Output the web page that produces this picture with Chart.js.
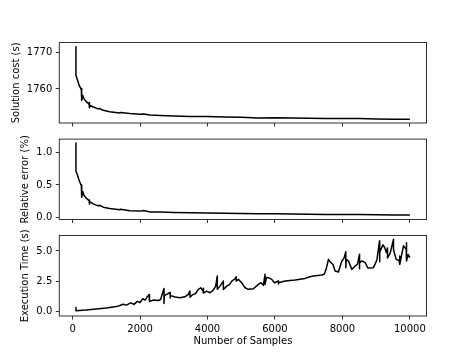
<!DOCTYPE html>
<html><head><meta charset="utf-8">
<script src="https://cdn.jsdelivr.net/npm/chart.js@4/dist/chart.umd.min.js"></script>
<style>
html,body{margin:0;padding:0;background:#fff;}
#wrap{position:relative;width:474px;height:355px;overflow:hidden;background:#fff;}
#wrap canvas{position:absolute;left:0;}
</style></head><body><div id="wrap"></div>
<script>
// ---- data ----
const costSamples = [100,100,140,200,260,270,270,300,340,420,490,500,500,520,610,760,800,910,1100,1400,1420,1700,2000,2100,2300,2600,3000,3500,4000,4500,5000,5500,6000,6500,7000,7500,8000,8500,9000,9500,10000];
const costValues  = [1771.5,1763.7,1762.6,1760.9,1759.8,1760.1,1756.9,1758.2,1757.3,1756.4,1755.9,1756.3,1754.9,1755.5,1755.1,1754.6,1754.7,1754.2,1753.8,1753.5,1753.6,1753.3,1753.1,1753.2,1752.95,1752.8,1752.65,1752.55,1752.5,1752.4,1752.3,1752.1,1752.2,1752.1,1752.05,1752.0,1752.0,1751.95,1751.85,1751.8,1751.8];

const errorSamples = [100,100,140,200,260,270,270,300,340,420,490,500,500,520,610,760,800,910,1100,1400,1420,1700,2000,2100,2300,2600,3000,3500,4000,4500,5000,5500,6000,6500,7000,7500,8000,8500,9000,9500,10000];
const errorValues  = [1.14,0.71,0.66,0.56,0.49,0.50,0.31,0.40,0.34,0.29,0.26,0.27,0.21,0.24,0.21,0.18,0.19,0.16,0.14,0.12,0.13,0.105,0.10,0.11,0.088,0.085,0.08,0.075,0.072,0.068,0.063,0.058,0.06,0.055,0.052,0.05,0.05,0.047,0.043,0.042,0.04];

const timeSamples = [100,100,200,400,700,1000,1300,1400,1500,1600,1720,1820,1920,2000,2080,2150,2210,2270,2280,2390,2540,2610,2710,2710,2720,2790,2890,2890,2900,3040,3180,3330,3430,3480,3480,3550,3640,3730,3800,3870,3880,3880,3976,4074,4172,4243,4290,4290,4370,4470,4470,4570,4650,4720,4816,4850,4850,4915,5015,5113,5211,5360,5508,5588,5656,5706,5706,5750,5805,5905,5983,6100,6100,6110,6300,6600,6890,7040,7140,7390,7460,7516,7585,7656,7715,7783,7881,7982,8041,8100,8100,8110,8178,8279,8356,8445,8505,8505,8510,8576,8674,8754,8920,9021,9059,9100,9100,9110,9200,9250,9300,9336,9336,9416,9514,9514,9593,9680,9700,9700,9810,9890,9900,9900,9950,10000];
const timeValues  = [0.3,0.03,0.06,0.1,0.18,0.27,0.38,0.47,0.58,0.5,0.69,0.56,0.81,0.72,1.03,0.92,1.17,1.39,0.8,0.92,0.89,0.97,1.89,0.64,1.3,1.39,1.55,1.1,1.3,1.17,1.11,1.19,1.39,1.67,1.15,1.35,1.45,1.81,1.94,1.67,1.9,1.5,1.67,1.53,1.75,2.08,2.92,1.81,2.08,2.5,1.8,2.08,2.2,2.5,2.69,2.85,2.5,2.64,2.36,1.94,1.81,1.86,2.22,2.36,2.14,3.06,2.22,2.8,2.78,2.64,2.36,2.5,2.25,2.36,2.5,2.58,2.72,2.86,2.92,3.0,3.06,3.47,4.3,4.03,3.89,3.33,3.25,4.17,4.36,4.92,3.61,4.3,4.17,3.47,3.69,3.89,4.72,3.53,4.0,4.17,4.03,3.58,3.61,4.25,5.0,5.83,4.1,4.9,5.5,5.3,4.86,5.25,4.42,4.81,5.97,5.1,4.3,4.2,4.58,3.89,5.42,5.14,5.67,4.17,4.7,4.44];

const xTicks = [0,2000,4000,6000,8000,10000];
const costTicks = [1760,1770];
const errorTicks = [0.0,0.5,1.0];
const timeTicks = [0.0,2.5,5.0];

const xLabel = 'Number of Samples';
const costLabel = 'Solution cost (s)';
const errorLabel = 'Relative error (%)';
const timeLabel = 'Execution Time (s)';

// ---- rendering ----
Chart.defaults.font.family = "'DejaVu Sans', sans-serif";
Chart.defaults.font.size = 10;
Chart.defaults.color = '#000';

const W = 474, LEFT = 59.25, RIGHT = 426.6;
const X_MIN = -395, X_MAX = 10495;

const framePlugin = {
  id: 'frame',
  afterDatasetsDraw(chart) {
    const {ctx, chartArea: a} = chart;
    ctx.save();
    ctx.strokeStyle = '#000';
    ctx.lineWidth = 0.8;
    ctx.strokeRect(a.left, a.top, a.right - a.left, a.bottom - a.top);
    ctx.restore();
  }
};

function makePanel(cfg) {
  const canvasTop = Math.floor(cfg.top) - 14;
  const canvasBottom = cfg.last ? 355 : Math.ceil(cfg.bottom) + 14;
  const H = canvasBottom - canvasTop;
  const padTop = cfg.top - canvasTop;
  const xh = canvasBottom - cfg.bottom;
  const cv = document.createElement('canvas');
  cv.width = W; cv.height = H;
  cv.style.top = canvasTop + 'px';
  cv.style.width = W + 'px'; cv.style.height = H + 'px';
  document.getElementById('wrap').appendChild(cv);
  new Chart(cv.getContext('2d'), {
    type: 'line',
    data: {
      datasets: [{
        data: cfg.xs.map((x, i) => ({x: x, y: cfg.ys[i]})),
        borderColor: '#000',
        borderWidth: 1.5,
        pointRadius: 0,
        tension: 0,
        fill: false,
        borderJoinStyle: 'round',
        borderCapStyle: 'butt'
      }]
    },
    options: {
      responsive: false,
      animation: false,
      devicePixelRatio: 1,
      layout: {padding: {left: 0, right: W - RIGHT, top: padTop, bottom: 0}},
      plugins: {legend: {display: false}, tooltip: {enabled: false}},
      scales: {
        x: {
          type: 'linear',
          min: X_MIN, max: X_MAX,
          afterBuildTicks: s => { s.ticks = xTicks.map(v => ({value: v})); },
          afterFit: s => { s.height = xh; },
          border: {display: false},
          grid: {drawOnChartArea: false, drawTicks: true, tickLength: 3.5, tickColor: '#000', tickWidth: 0.8},
          ticks: {display: !!cfg.last, padding: 3.5, maxRotation: 0, autoSkip: false, callback: v => String(v), color: '#000'},
          title: cfg.last ? {display: true, text: xLabel, color: '#000', padding: {top: 0, bottom: 7.3}} : {display: false}
        },
        y: {
          type: 'linear',
          min: cfg.ymin, max: cfg.ymax,
          afterBuildTicks: s => { s.ticks = cfg.ticks.map(v => ({value: v})); },
          afterFit: s => { s.width = LEFT; },
          border: {display: false},
          grid: {drawOnChartArea: false, drawTicks: true, tickLength: 3.5, tickColor: '#000', tickWidth: 0.8},
          ticks: {padding: 3.5, autoSkip: false, callback: cfg.fmt, color: '#000'},
          title: {display: true, text: cfg.label, color: '#000', padding: {top: cfg.titlePad, bottom: 0}}
        }
      }
    },
    plugins: [framePlugin]
  });
}

makePanel({top: 42.6, bottom: 123.0, xs: costSamples, ys: costValues, ymin: 1750.75, ymax: 1772.6,
  ticks: costTicks, fmt: v => String(Math.round(v)), label: costLabel, titlePad: 10.5});
makePanel({top: 139.1, bottom: 219.5, xs: errorSamples, ys: errorValues, ymin: -0.028, ymax: 1.2,
  ticks: errorTicks, fmt: v => Number(v).toFixed(1), label: errorLabel, titlePad: 19});
makePanel({top: 235.6, bottom: 316.0, xs: timeSamples, ys: timeValues, ymin: -0.4, ymax: 6.27,
  ticks: timeTicks, fmt: v => Number(v).toFixed(1), label: timeLabel, titlePad: 19, last: true});
</script>
</body></html>
